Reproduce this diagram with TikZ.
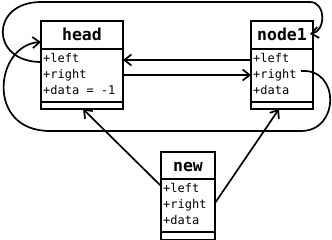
\documentclass[tikz,border=0pt]{standalone}
\usepackage{fontspec}
\setmonofont{DejaVu Sans Mono}
\usetikzlibrary{arrows.meta,calc}
\begin{document}
\begin{tikzpicture}[x=1pt,y=-1pt,
  comp/.style={draw,line width=2pt,inner sep=0pt,outer sep=0pt,fill=white},
  ttl/.style={font=\ttfamily\bfseries\fontsize{16.5}{18}\selectfont,text height=12pt,text depth=0pt},
  attr/.style={font=\ttfamily\fontsize{12}{16}\selectfont,inner sep=0pt,anchor=base west},
  conn/.style={line width=1.7pt},
  tip/.style={-{Straight Barb[length=7pt,width=11pt,line width=1.7pt]}}
]
\useasboundingbox (0,0) rectangle (332,240);
% head
\node[comp,ttl,minimum width=82pt,minimum height=28pt] (headT) at (82,35) {head};
\node[comp,minimum width=82pt,minimum height=53pt] (headA) at (82,75.5) {};
\node[comp,minimum width=82pt,minimum height=7pt] (headO) at (82,105.5) {};
\node[attr] (ha1) at (43,63) {+left};
\node[attr] (ha2) at (43,79) {+right};
\node[attr] (ha3) at (43,95) {+data = -1};
% node1
\node[comp,ttl,minimum width=62pt,minimum height=28pt] (node1T) at (282,35) {node1};
\node[comp,minimum width=62pt,minimum height=53pt] (node1A) at (282,75.5) {};
\node[comp,minimum width=62pt,minimum height=7pt] (node1O) at (282,105.5) {};
\node[attr] (na1) at (253,63) {+left};
\node[attr] (na2) at (253,79) {+right};
\node[attr] (na3) at (253,95) {+data};
% new
\node[comp,ttl,minimum width=54pt,minimum height=27pt] (newT) at (188,165.5) {new};
\node[comp,minimum width=54pt,minimum height=53pt] (newA) at (188,205.5) {};
\node[comp,minimum width=54pt,minimum height=8pt] (newO) at (188,236) {};
\node[attr] (wa1) at (163,193) {+left};
\node[attr] (wa2) at (163,209) {+right};
\node[attr] (wa3) at (163,225) {+data};
% connectors
\draw[conn,tip] ($(headA.north west)+(0,13)$) .. controls (-10,62) and (-10,2) .. (41,2)
  -- (310,2) .. controls (326,2) and (326,31) .. ($(node1T.east)+(-3,-1)$);
\draw[conn,tip] ($(node1A.north east)+(-12,22)$) .. controls (340,68) and (340,131) .. (301,131)
  -- (50,131) .. controls (-15,131) and (-5,45) .. ($(headT.west)+(0,7)$);
\draw[conn,tip] ($(node1A.north west)+(0,11)$) -- ($(headA.north east)+(0,11)$);
\draw[conn,tip] ($(headA.north east)+(0,26)$) -- ($(node1A.north west)+(0,26)$);
\draw[conn,tip] ($(newA.north west)+(0,7)$) -- ($(headO.south)+(1,0)$);
\draw[conn,tip] ($(newA.north east)+(0,24)$) -- ($(node1O.south)+(-3,0)$);
\end{tikzpicture}
\end{document}
